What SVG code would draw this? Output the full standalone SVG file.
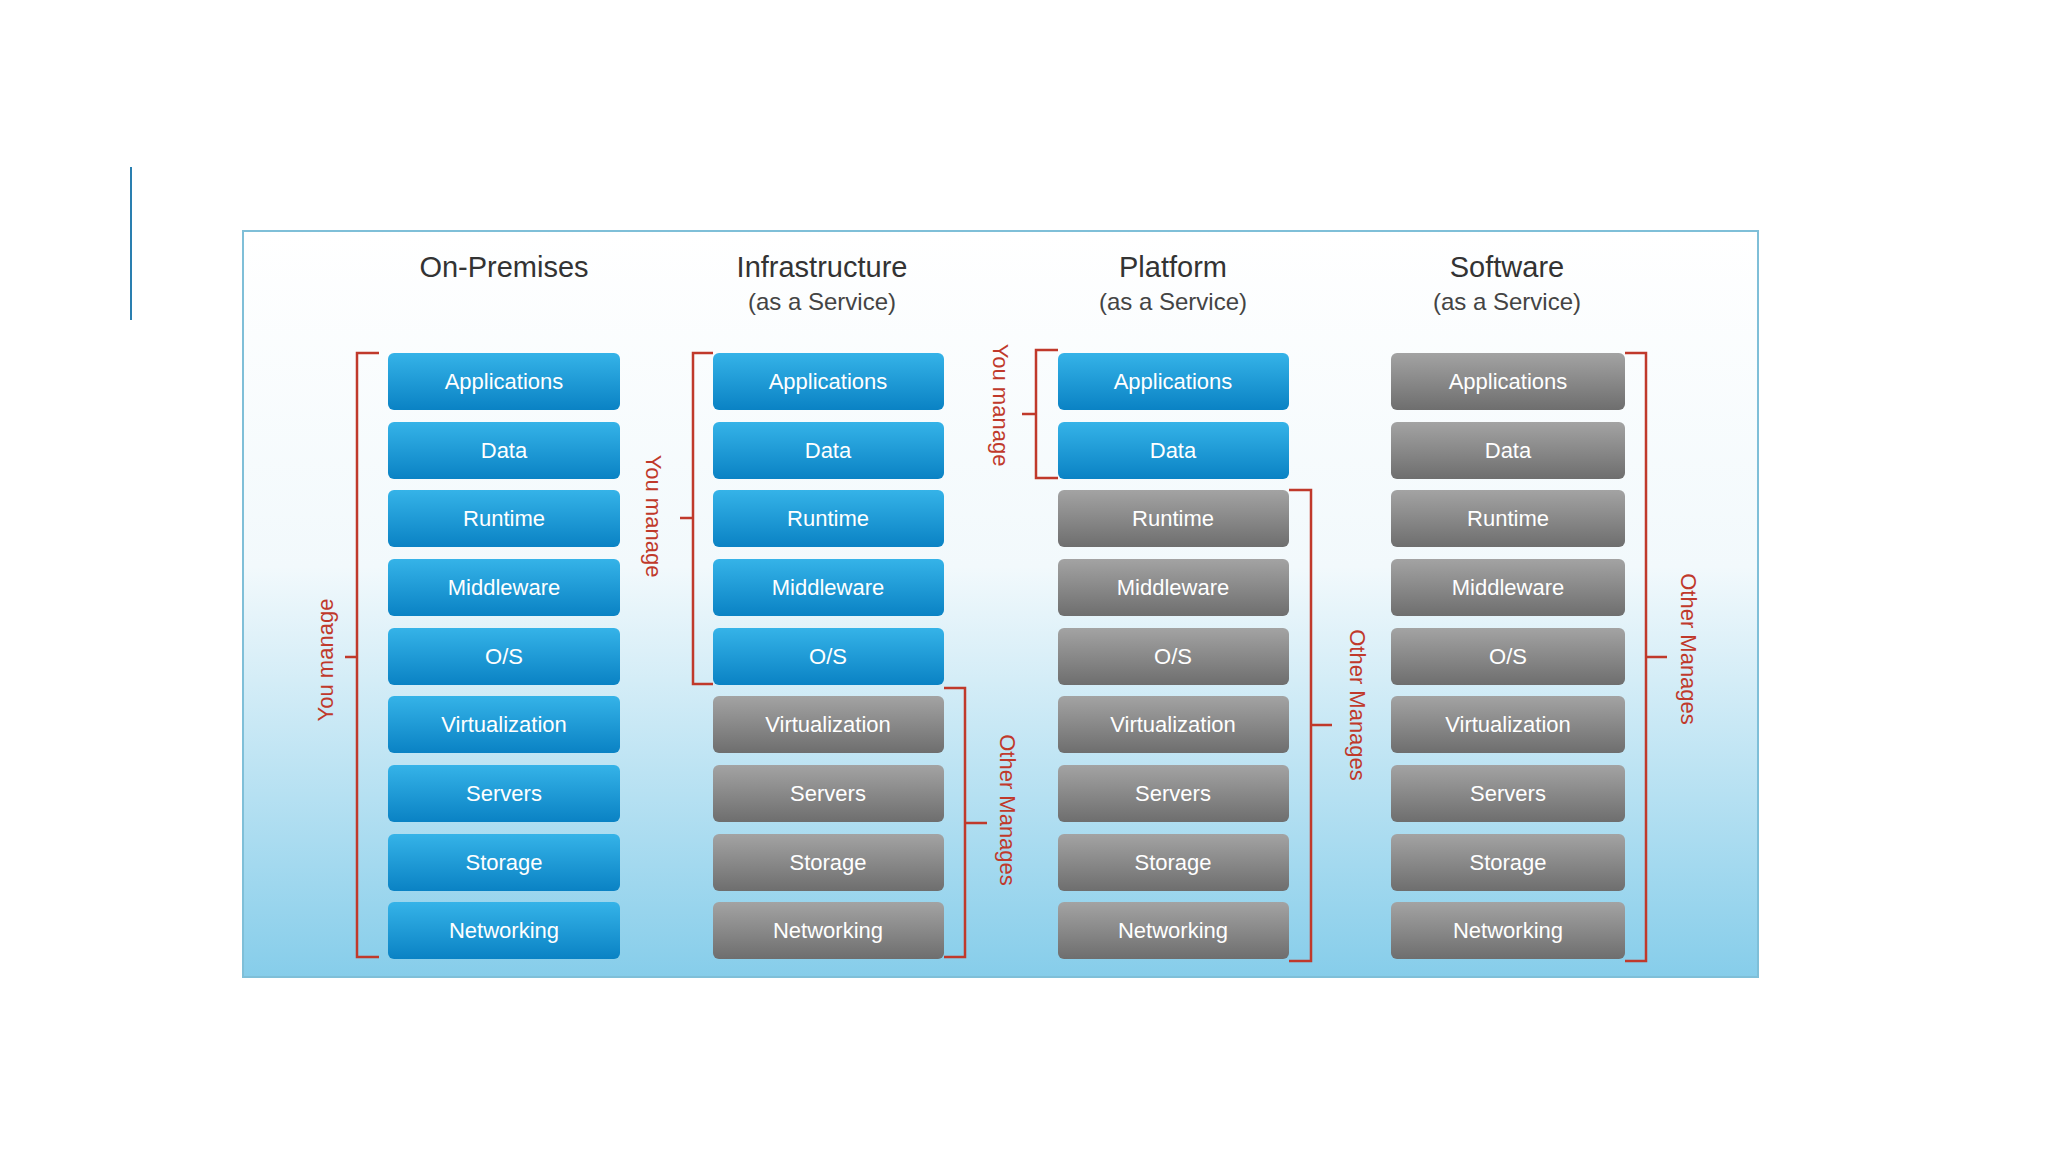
<svg xmlns="http://www.w3.org/2000/svg" width="2048" height="1152" viewBox="0 0 2048 1152">
<defs>
<linearGradient id="bg" x1="0" y1="0" x2="0" y2="1"><stop offset="0" stop-color="#ffffff"/><stop offset="0.45" stop-color="#f2f9fc"/><stop offset="1" stop-color="#86cdea"/></linearGradient>
<linearGradient id="blue" x1="0" y1="0" x2="0" y2="1"><stop offset="0" stop-color="#35b3e8"/><stop offset="1" stop-color="#0a82c4"/></linearGradient>
<linearGradient id="gray" x1="0" y1="0" x2="0" y2="1"><stop offset="0" stop-color="#a3a3a3"/><stop offset="1" stop-color="#6e6e6e"/></linearGradient>
<style>
.b{fill:url(#blue)}.g{fill:url(#gray)}
.t{font-family:"Liberation Sans",Arial,sans-serif;font-size:22px;fill:#fff;text-anchor:middle}
.h{font-family:"Liberation Sans",Arial,sans-serif;font-size:29px;fill:#333;text-anchor:middle}
.s{font-family:"Liberation Sans",Arial,sans-serif;font-size:24px;fill:#444;text-anchor:middle}
.br{fill:none;stroke:#c0392b;stroke-width:2.5}
.l{font-family:"Liberation Sans",Arial,sans-serif;font-size:22px;fill:#c0392b;text-anchor:middle}
</style>
</defs>
<rect width="2048" height="1152" fill="#fff"/>
<line x1="131" y1="167" x2="131" y2="320" stroke="#2a7fb0" stroke-width="2"/>
<rect x="243" y="231" width="1515" height="746" fill="url(#bg)" stroke="#7fbfd8" stroke-width="2"/>
<g id="titles">
<text class="h" x="504" y="277">On-Premises</text>
<text class="h" x="822" y="277">Infrastructure</text><text class="s" x="822" y="310">(as a Service)</text>
<text class="h" x="1173" y="277">Platform</text><text class="s" x="1173" y="310">(as a Service)</text>
<text class="h" x="1507" y="277">Software</text><text class="s" x="1507" y="310">(as a Service)</text>
</g>
<g id="col1">
<rect class="b" x="388" y="353" width="232" height="57" rx="6"/><text class="t" x="504" y="389">Applications</text>
<rect class="b" x="388" y="422" width="232" height="57" rx="6"/><text class="t" x="504" y="458">Data</text>
<rect class="b" x="388" y="490" width="232" height="57" rx="6"/><text class="t" x="504" y="526">Runtime</text>
<rect class="b" x="388" y="559" width="232" height="57" rx="6"/><text class="t" x="504" y="595">Middleware</text>
<rect class="b" x="388" y="628" width="232" height="57" rx="6"/><text class="t" x="504" y="664">O/S</text>
<rect class="b" x="388" y="696" width="232" height="57" rx="6"/><text class="t" x="504" y="732">Virtualization</text>
<rect class="b" x="388" y="765" width="232" height="57" rx="6"/><text class="t" x="504" y="801">Servers</text>
<rect class="b" x="388" y="834" width="232" height="57" rx="6"/><text class="t" x="504" y="870">Storage</text>
<rect class="b" x="388" y="902" width="232" height="57" rx="6"/><text class="t" x="504" y="938">Networking</text>
</g>
<g id="col2">
<rect class="b" x="713" y="353" width="231" height="57" rx="6"/><text class="t" x="828" y="389">Applications</text>
<rect class="b" x="713" y="422" width="231" height="57" rx="6"/><text class="t" x="828" y="458">Data</text>
<rect class="b" x="713" y="490" width="231" height="57" rx="6"/><text class="t" x="828" y="526">Runtime</text>
<rect class="b" x="713" y="559" width="231" height="57" rx="6"/><text class="t" x="828" y="595">Middleware</text>
<rect class="b" x="713" y="628" width="231" height="57" rx="6"/><text class="t" x="828" y="664">O/S</text>
<rect class="g" x="713" y="696" width="231" height="57" rx="6"/><text class="t" x="828" y="732">Virtualization</text>
<rect class="g" x="713" y="765" width="231" height="57" rx="6"/><text class="t" x="828" y="801">Servers</text>
<rect class="g" x="713" y="834" width="231" height="57" rx="6"/><text class="t" x="828" y="870">Storage</text>
<rect class="g" x="713" y="902" width="231" height="57" rx="6"/><text class="t" x="828" y="938">Networking</text>
</g>
<g id="col3">
<rect class="b" x="1058" y="353" width="231" height="57" rx="6"/><text class="t" x="1173" y="389">Applications</text>
<rect class="b" x="1058" y="422" width="231" height="57" rx="6"/><text class="t" x="1173" y="458">Data</text>
<rect class="g" x="1058" y="490" width="231" height="57" rx="6"/><text class="t" x="1173" y="526">Runtime</text>
<rect class="g" x="1058" y="559" width="231" height="57" rx="6"/><text class="t" x="1173" y="595">Middleware</text>
<rect class="g" x="1058" y="628" width="231" height="57" rx="6"/><text class="t" x="1173" y="664">O/S</text>
<rect class="g" x="1058" y="696" width="231" height="57" rx="6"/><text class="t" x="1173" y="732">Virtualization</text>
<rect class="g" x="1058" y="765" width="231" height="57" rx="6"/><text class="t" x="1173" y="801">Servers</text>
<rect class="g" x="1058" y="834" width="231" height="57" rx="6"/><text class="t" x="1173" y="870">Storage</text>
<rect class="g" x="1058" y="902" width="231" height="57" rx="6"/><text class="t" x="1173" y="938">Networking</text>
</g>
<g id="col4">
<rect class="g" x="1391" y="353" width="234" height="57" rx="6"/><text class="t" x="1508" y="389">Applications</text>
<rect class="g" x="1391" y="422" width="234" height="57" rx="6"/><text class="t" x="1508" y="458">Data</text>
<rect class="g" x="1391" y="490" width="234" height="57" rx="6"/><text class="t" x="1508" y="526">Runtime</text>
<rect class="g" x="1391" y="559" width="234" height="57" rx="6"/><text class="t" x="1508" y="595">Middleware</text>
<rect class="g" x="1391" y="628" width="234" height="57" rx="6"/><text class="t" x="1508" y="664">O/S</text>
<rect class="g" x="1391" y="696" width="234" height="57" rx="6"/><text class="t" x="1508" y="732">Virtualization</text>
<rect class="g" x="1391" y="765" width="234" height="57" rx="6"/><text class="t" x="1508" y="801">Servers</text>
<rect class="g" x="1391" y="834" width="234" height="57" rx="6"/><text class="t" x="1508" y="870">Storage</text>
<rect class="g" x="1391" y="902" width="234" height="57" rx="6"/><text class="t" x="1508" y="938">Networking</text>
</g>
<g id="brackets">
<path class="br" d="M379 353H357V957H379M357 657H345"/>
<text class="l" transform="translate(333 660) rotate(-90)">You manage</text>
<path class="br" d="M713 353H693V684H713M693 518H680"/>
<text class="l" transform="translate(646 516) rotate(90)">You manage</text>
<path class="br" d="M944 688H965V957H944M965 823H987"/>
<text class="l" transform="translate(1000 810) rotate(90)">Other Manages</text>
<path class="br" d="M1058 350H1036V478H1058M1036 414H1022"/>
<text class="l" transform="translate(993 405) rotate(90)">You manage</text>
<path class="br" d="M1289 490H1311V961H1289M1311 725H1332"/>
<text class="l" transform="translate(1350 705) rotate(90)">Other Manages</text>
<path class="br" d="M1625 353H1646V961H1625M1646 657H1667"/>
<text class="l" transform="translate(1681 649) rotate(90)">Other Manages</text>
</g>
</svg>
